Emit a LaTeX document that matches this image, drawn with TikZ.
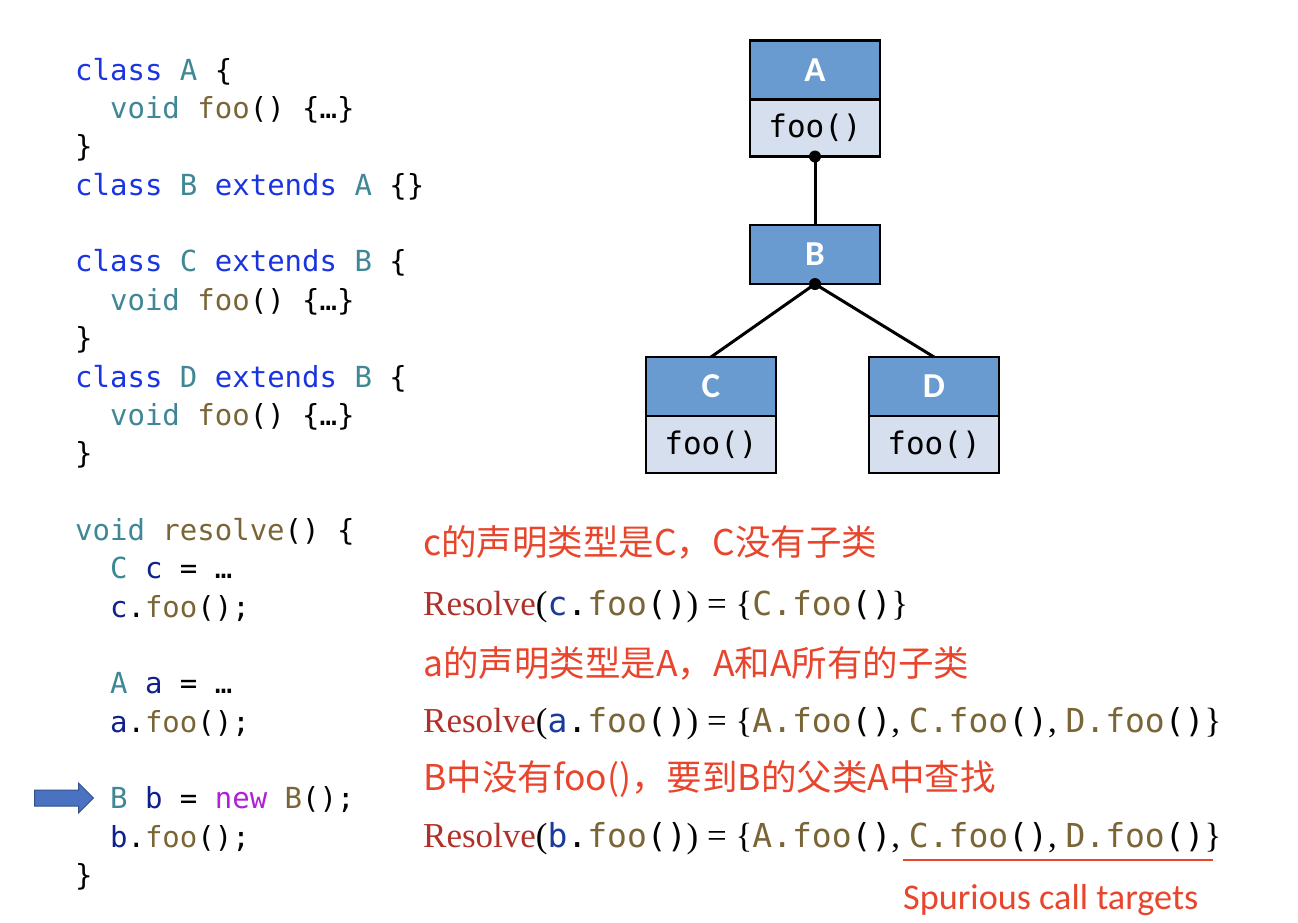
\documentclass[tikz,border=0pt]{standalone}
\usepackage{fontspec}
\setmainfont{Liberation Serif}
\newfontfamily\codefont{DejaVu Sans Mono}
\newfontfamily\cjk{Noto Sans CJK SC}
\newfontfamily\boxfont{Carlito}
\usepackage{tikz}
\usetikzlibrary{matrix,positioning,shapes.arrows}

\definecolor{kwblue}{HTML}{1A35E0}
\definecolor{typeteal}{HTML}{3F8796}
\definecolor{fnolive}{HTML}{7A6536}
\definecolor{varnavy}{HTML}{10208C}
\definecolor{newpurple}{HTML}{B020D8}
\definecolor{resred}{HTML}{B0302A}
\definecolor{resvar}{HTML}{1A3A9C}
\definecolor{notered}{HTML}{E8452C}
\definecolor{headblue}{HTML}{6A9BD0}
\definecolor{bodyblue}{HTML}{D5DFED}
\definecolor{arrowfill}{HTML}{4A72C0}
\definecolor{arrowdraw}{HTML}{2F528F}

\newcommand{\kw}[1]{\textcolor{kwblue}{#1}}
\newcommand{\ty}[1]{\textcolor{typeteal}{#1}}
\newcommand{\fn}[1]{\textcolor{fnolive}{#1}}
\newcommand{\va}[1]{\textcolor{varnavy}{#1}}
\newcommand{\nw}[1]{\textcolor{newpurple}{#1}}
\newcommand{\ind}{\phantom{xx}}
\newcommand{\mono}[1]{{\codefont\fontsize{33}{38}\selectfont #1}}
\newcommand{\rv}[1]{\textcolor{resvar}{#1}}
\newcommand{\so}[1]{\textcolor{fnolive}{#1}}

\tikzset{
  head/.style={draw, line width=2.5pt, fill=headblue, minimum width=130pt, minimum height=59pt,
    inner sep=0pt, outer sep=0pt, text=white, font=\boxfont\bfseries\fontsize{35}{40}\selectfont},
  body/.style={draw, line width=2.5pt, fill=bodyblue, minimum width=130pt, minimum height=57pt,
    inner sep=0pt, outer sep=0pt, font=\codefont\fontsize{31}{36}\selectfont},
  link/.style={line width=3pt},
  note/.style={anchor=base west, inner sep=0pt, text=notered, font=\cjk\fontsize{35.5}{40}\selectfont},
  res/.style={anchor=base west, inner sep=0pt, font=\fontsize{35}{40}\selectfont},
}

\begin{document}
\begin{tikzpicture}[x=1pt, y=-1pt]
\useasboundingbox (0,0) rectangle (1298,922);

% source code
\matrix (code) [matrix of nodes, anchor=north west, inner sep=0pt, row sep=0pt,
  nodes={anchor=base west, inner sep=0pt, text height=28pt, text depth=10.35pt,
    font=\codefont\fontsize{29}{38}\selectfont}] at (75,52)
{
  \kw{class} \ty{A} \{ \\
  \ind\ty{void} \fn{foo}() \{…\} \\
  \} \\
  \kw{class} \ty{B} \kw{extends} \ty{A} \{\} \\
  \mbox{} \\
  \kw{class} \ty{C} \kw{extends} \ty{B} \{ \\
  \ind\ty{void} \fn{foo}() \{…\} \\
  \} \\
  \kw{class} \ty{D} \kw{extends} \ty{B} \{ \\
  \ind\ty{void} \fn{foo}() \{…\} \\
  \} \\
  \mbox{} \\
  \ty{void} \fn{resolve}() \{ \\
  \ind\ty{C} \va{c} = … \\
  \ind\va{c}.\fn{foo}(); \\
  \mbox{} \\
  \ind\ty{A} \va{a} = … \\
  \ind\va{a}.\fn{foo}(); \\
  \mbox{} \\
  \ind\ty{B} \va{b} = \nw{new} \fn{B}(); \\
  \ind\va{b}.\fn{foo}(); \\
  \} \\
};

\node[single arrow, fill=arrowfill, draw=arrowdraw, line width=1pt, minimum height=59pt,
  text height=7.5pt, text depth=7.5pt, single arrow head extend=7pt, inner sep=0pt,
  anchor=tail] (here) at (34,798) {};

% class hierarchy
\node[head] (Ahead) at (815,70) {A};
\node[body, below=0pt of Ahead] (Abody) {foo()};
\node[head] (Bhead) at (815,254.5) {B};
\node[head] (Chead) at (711,386.5) {C};
\node[body, below=0pt of Chead] (Cbody) {foo()};
\node[head] (Dhead) at (934,386.5) {D};
\node[body, below=0pt of Dhead] (Dbody) {foo()};

\draw[link] (Abody.south) -- (Bhead.north);
\draw[link] (Bhead.south) -- (Chead.north);
\draw[link] (Bhead.south) -- (Dhead.north);
\fill (Abody.south) circle (6pt);
\fill (Bhead.south) circle (6pt);

% resolution results
\node[note] (note1) at (423,555) {c的声明类型是C，C没有子类};
\node[res] (res1) at (423,615) {\textcolor{resred}{Resolve}(\mono{\rv{c}.\so{foo}()}) = \{\mono{\so{C.foo}()}\}};
\node[note] (note2) at (423,676) {a的声明类型是A，A和A所有的子类};
\node[res] (res2) at (423,732) {\textcolor{resred}{Resolve}(\mono{\rv{a}.\so{foo}()}) = \{\mono{\so{A.foo}()}, \mono{\so{C.foo}()}, \mono{\so{D.foo}()}\}};
\node[note] (note3) at (423,790) {B中没有foo()，要到B的父类A中查找};
\node[res] (res3) at (423,847) {\textcolor{resred}{Resolve}(\mono{\rv{b}.\so{foo}()}) = \{\mono{\so{A.foo}()}, \mono{\so{C.foo}()}, \mono{\so{D.foo}()}\}};

\coordinate (ul) at (903,860);
\coordinate (ur) at (1213,860);
\draw[notered, line width=2.5pt] (ul) -- (ur);
\node[anchor=base west, inner sep=0pt, text=notered, font=\boxfont\fontsize{36.2}{40}\selectfont] (spur) at (903,909) {Spurious call targets};
\end{tikzpicture}
\end{document}
